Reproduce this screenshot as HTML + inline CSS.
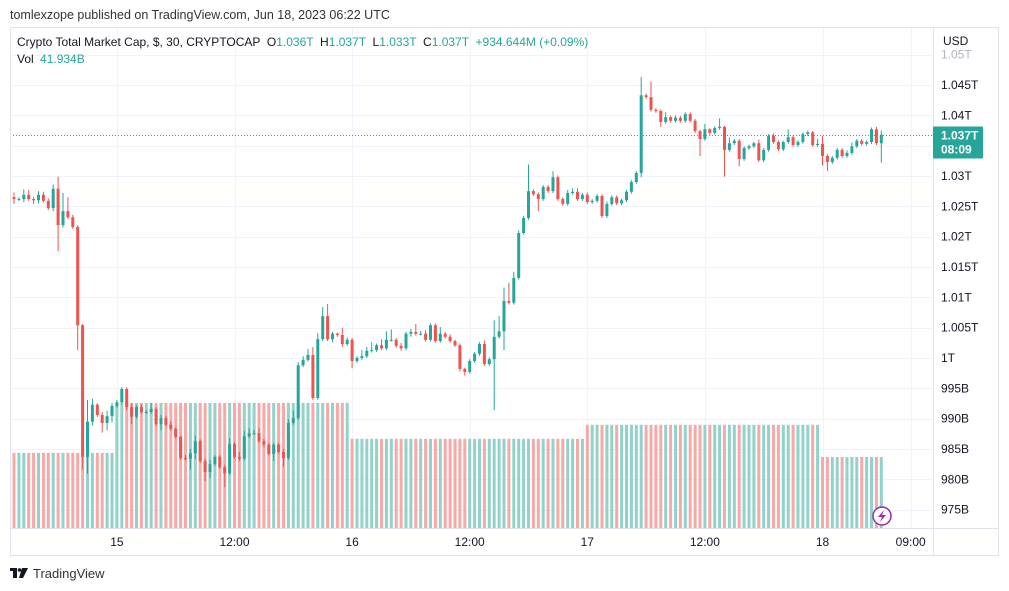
<!DOCTYPE html>
<html><head><meta charset="utf-8"><style>
html,body{margin:0;padding:0;background:#fff;width:1009px;height:591px;overflow:hidden;font-family:"Liberation Sans",sans-serif;}
svg{position:absolute;left:0;top:0}
</style></head><body>
<svg id="chart" width="1009" height="591">
<g id="grid"></g>
<g id="vol"></g>
<g id="candles"></g>
<g id="axes"></g>
</svg>
<script>
const firstOpen = 1026.5;
const closes = [1026.2,1026.2,1026.9,1026.2,1026.0,1026.9,1025.9,1024.7,1027.9,1021.9,1024.2,1023.2,1021.6,1005.4,983.7,989.5,992.3,990.6,989.3,990.4,992.1,992.7,994.9,991.9,990.3,991.9,991.1,991.1,991.6,989.1,990.1,989.0,988.3,987.0,983.5,983.4,984.3,986.3,983.0,981.2,982.5,983.7,982.0,981.0,985.8,983.7,983.4,987.1,987.6,987.6,986.3,985.7,984.2,985.7,984.5,983.5,989.3,990.1,998.8,999.7,1000.5,993.4,1003.1,1006.9,1003.1,1004.0,1003.8,1002.3,1003.0,999.5,1000.0,1000.3,1001.2,1001.3,1002.1,1001.6,1003.0,1003.0,1002.0,1001.6,1004.0,1004.3,1004.0,1004.0,1003.0,1005.4,1002.8,1004.0,1003.5,1002.8,1002.1,998.2,997.7,999.5,1000.7,1002.3,999.0,999.8,1003.5,1004.4,1009.4,1009.1,1013.2,1020.6,1023.1,1027.5,1027.0,1026.2,1028.2,1027.5,1029.8,1026.2,1025.4,1027.2,1027.4,1026.2,1026.9,1025.7,1025.9,1026.7,1023.4,1025.4,1026.5,1025.5,1026.0,1027.4,1029.0,1030.5,1043.3,1043.0,1040.9,1040.7,1038.9,1039.7,1039.1,1039.6,1039.1,1040.2,1039.1,1037.4,1036.1,1037.7,1037.1,1037.9,1038.1,1034.3,1035.4,1035.8,1032.8,1034.6,1034.9,1035.4,1032.6,1034.3,1036.6,1035.6,1034.4,1035.6,1036.4,1035.1,1035.6,1036.9,1037.2,1035.1,1035.3,1033.3,1032.3,1033.0,1034.3,1033.3,1033.8,1034.9,1035.8,1035.3,1035.6,1037.7,1035.4,1036.8];
const wickUp = [0.8,0.3,0.9,0.8,0.4,0.6,0.5,0.4,0.7,2.0,3.0,2.3,0.4,0.3,0.2,3.6,1.0,0.3,0.5,0.9,0.5,0.4,0.3,0.3,0.6,0.3,0.5,0.3,1.0,0.3,0.5,0.4,0.6,0.3,0.2,0.5,0.7,0.9,0.3,0.4,0.7,0.3,0.3,0.4,1.0,0.3,0.8,0.9,0.8,0.5,0.8,0.4,0.3,0.3,0.3,0.5,0.6,1.2,0.5,0.6,1.0,1.3,1.0,1.5,2.0,0.3,0.2,1.2,0.4,0.3,0.3,1.0,0.6,1.3,0.3,1.0,1.4,1.7,0.3,0.5,0.3,0.5,1.3,0.5,0.6,0.3,0.3,1.1,0.3,0.4,0.2,0.3,0.2,0.3,0.3,0.3,0.6,0.3,2.7,2.5,2.2,3.0,1.0,0.4,0.3,4.4,0.3,0.3,0.3,0.3,1.0,0.3,0.3,0.5,0.6,0.6,0.3,0.4,0.3,0.3,0.3,0.4,0.3,0.3,0.3,0.3,0.3,0.3,3.0,0.3,2.6,0.3,0.3,0.8,0.3,0.4,0.3,0.3,0.3,0.3,0.2,0.9,0.2,0.3,1.4,0.2,0.9,0.3,0.3,0.3,0.3,0.2,0.6,0.3,0.3,0.4,0.3,0.2,1.3,0.3,0.3,0.3,0.3,0.2,0.8,1.3,0.3,0.3,0.3,0.3,0.4,0.6,0.3,0.3,0.3,0.3,0.4,0.7,1.2,1.3,0.3];
const wickDn = [0.8,0.3,0.5,0.3,0.6,0.5,0.3,0.3,0.5,4.3,0.4,0.3,0.3,4.1,2.1,2.8,0.6,0.3,1.6,1.2,1.0,0.3,0.3,0.5,1.2,0.3,0.3,0.3,0.3,0.3,1.0,0.3,0.3,0.3,0.3,0.3,1.8,1.0,0.3,1.5,1.0,0.3,0.3,2.3,0.3,0.4,0.4,0.3,0.3,0.3,0.3,0.4,0.3,1.2,0.3,1.4,0.3,0.3,0.3,0.3,0.3,0.3,0.3,0.3,0.3,0.5,0.3,0.5,0.3,1.2,0.3,0.3,0.3,0.3,0.3,0.3,0.3,0.3,0.3,0.4,0.3,0.5,0.3,0.3,0.3,0.3,0.3,0.3,0.3,0.3,0.3,0.4,0.6,0.3,0.3,0.3,0.3,0.3,8.4,0.3,3.1,0.3,0.3,0.3,0.3,0.3,0.3,2.0,0.3,0.3,0.3,0.3,0.3,0.3,0.3,0.3,0.3,0.3,0.3,0.3,0.3,0.3,0.3,0.3,0.3,0.3,0.3,0.3,0.7,0.3,0.3,0.3,0.8,0.3,0.3,0.3,0.3,0.3,0.3,0.3,2.8,0.3,0.3,0.3,0.3,4.4,0.3,0.3,1.2,0.3,0.3,0.3,0.3,0.3,0.3,0.3,0.3,0.3,0.3,0.3,0.3,0.3,0.3,0.3,0.3,1.6,1.5,0.3,0.3,0.3,0.3,0.3,0.3,0.3,0.3,0.3,0.3,3.2];
const dayCandleCounts = [21,48,48,48,13];
const dayVolumes = [28.9,48.1,34.3,39.7,27.3];
const priceTicks = [975,980,985,990,995,1000,1005,1010,1015,1020,1025,1030,1035,1040,1045,1050];
const priceTickLabels = ["975B","980B","985B","990B","995B","1T","1.005T","1.01T","1.015T","1.02T","1.025T","1.03T","1.035T","1.04T","1.045T","1.05T"];
const timeTickIdx = [21,45,69,93,117,141,165,183];
const timeTickLabels = ["15","12:00","16","12:00","17","12:00","18","09:00"];
const lastPrice = 1036.8;

const NS="http://www.w3.org/2000/svg";
const plotL=10, plotR=933, plotT=27, plotB=528;
const y = p => 358 - (p-1000)*6.067;
const x = i => 14 + i*4.9;
const vy = v => plotB - v*2.6;
function mk(tag, attrs, parent){const e=document.createElementNS(NS,tag);for(const k in attrs)e.setAttribute(k,attrs[k]);parent.appendChild(e);return e;}
const grid=document.getElementById('grid'), vol=document.getElementById('vol'), cg=document.getElementById('candles'), ax=document.getElementById('axes');

// grid
priceTicks.forEach((p)=>{const yy=Math.round(y(p))+0.5; if(yy>plotT&&yy<plotB){const l=mk('line',{x1:plotL,x2:plotR,y1:yy,y2:yy,stroke:'#f0f3fa','stroke-width':1},grid);

}});
timeTickIdx.forEach((i)=>{const xx=Math.round(x(i))+0.5;const l=mk('line',{x1:xx,x2:xx,y1:plotT,y2:plotB,stroke:'#f0f3fa','stroke-width':1},grid);

});

// opens
const opens=[]; closes.forEach((c,i)=>opens.push(i===0?firstOpen:closes[i-1]));

// volume
let idx=0;
dayCandleCounts.forEach((n,d)=>{for(let k=0;k<n&&idx<closes.length;k++,idx++){
 const up=closes[idx]>=opens[idx];const top=vy(dayVolumes[d]);
 const r=mk('rect',{x:x(idx)-1.5,y:top,width:3,height:plotB-top,fill:up?'#92d2ca':'#f7a9a7'},vol);
 
 
}});

// candles
closes.forEach((c,i)=>{const o=opens[i];const up=c>=o;const col=up?'#26a69a':'#ef5350';
 const hi=Math.max(o,c)+wickUp[i], lo=Math.min(o,c)-wickDn[i];
 const w=mk('line',{x1:x(i),x2:x(i),y1:y(hi),y2:y(lo),stroke:col,'stroke-width':1},cg);
 
 
 const t=y(Math.max(o,c)), b=y(Math.min(o,c));
 const r=mk('rect',{x:x(i)-1.5,y:t,width:3,height:Math.max(1,b-t),fill:col},cg);
 
 
});

// last price line
const ly=Math.round(y(lastPrice))+0.5;
const dl=mk('line',{x1:plotL,x2:plotR,y1:ly,y2:ly,stroke:'#26a69a','stroke-width':1,'stroke-dasharray':'1 2'},ax);



// frame
const fr=mk('rect',{x:10.5,y:27.5,width:988,height:528,fill:'none',stroke:'#e0e3eb'},ax);


const vd=mk('line',{x1:933.5,x2:933.5,y1:27,y2:556,stroke:'#e0e3eb'},ax);


const hd=mk('line',{x1:10,x2:999,y1:528.5,y2:528.5,stroke:'#e0e3eb'},ax);



// price labels
priceTicks.forEach((p,k)=>{const yy=y(p);if(yy<50)return;
 const t=mk('text',{x:941,y:yy+4,'font-size':'12',fill:k===priceTicks.length-1?'#b2b5be':'#131722'},ax);t.textContent=priceTickLabels[k];
 
 });
const usd=mk('text',{x:943,y:45,'font-size':'12',fill:'#131722'},ax);usd.textContent='USD';



// last price tag
const tag=mk('rect',{x:933,y:ly-9,width:50,height:32,fill:'#26a69a',rx:1},ax);


const t1=mk('text',{x:941,y:ly+4,'font-size':'12','font-weight':'bold',fill:'#fff'},ax);t1.textContent='1.037T';


const t2=mk('text',{x:941,y:ly+18,'font-size':'12','font-weight':'bold',fill:'#fff'},ax);t2.textContent='08:09';



// time labels
timeTickIdx.forEach((i,k)=>{const t=mk('text',{x:x(i),y:546,'font-size':'12',fill:'#131722','text-anchor':'middle'},ax);t.textContent=timeTickLabels[k];
 
 });

// lightning icon
const ic=mk('g',{},ax);


mk('circle',{cx:882,cy:516,r:9,fill:'#fff',stroke:'#9c27b0','stroke-width':1.5},ic);
mk('path',{d:'M884 510 L878 517 L882 517 L880 522 L886 515 L882 515 Z',fill:'#9c27b0'},ic);

// texts
function txt(s,xx,yy,fs,col,name,inter){const t=mk('text',{x:xx,y:yy,'font-size':fs,fill:col},ax);t.textContent=s;
 
 return t;}
txt('tomlexzope published on TradingView.com, Jun 18, 2023 06:22 UTC',10,19,'12.5','#333','publish-info','false');
const leg=mk('text',{x:17,y:46,'font-size':'12',fill:'#131722'},ax);


[['Crypto Total Market Cap, $, 30, CRYPTOCAP  ','#131722'],['O','#131722'],['1.036T  ','#26a69a'],['H','#131722'],['1.037T  ','#26a69a'],['L','#131722'],['1.033T  ','#26a69a'],['C','#131722'],['1.037T  ','#26a69a'],['+934.644M (+0.09%)','#26a69a']].forEach(([s,c])=>{const ts=mk('tspan',{fill:c},leg);ts.setAttribute('xml:space','preserve');ts.textContent=s;});
leg.setAttribute('style','white-space:pre');
const vl=mk('text',{x:17,y:63,'font-size':'12',fill:'#131722'},ax);


const a=mk('tspan',{},vl);a.textContent='Vol ';const b=mk('tspan',{fill:'#26a69a',dx:'3'},vl);b.textContent='41.934B';

// footer logo
const lg=mk('g',{},ax);


mk('path',{d:'M10 568 H17 V578 H13 V571 H10 Z',fill:'#131722'},lg);
mk('circle',{cx:19.5,cy:570,r:1.8,fill:'#131722'},lg);
mk('path',{d:'M22 568 H28 L23 578 H19 Z',fill:'#131722'},lg);
txt('TradingView',33,578,'13','#333','tradingview-wordmark','true');
</script>
</body></html>
